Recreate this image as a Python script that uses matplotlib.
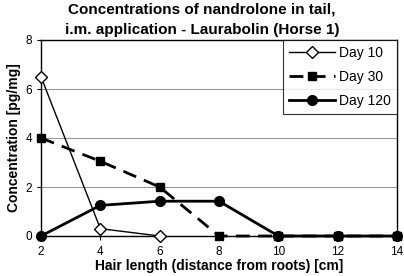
import matplotlib
matplotlib.use("Agg")
import matplotlib.pyplot as plt

plt.rcParams['font.family'] = ['Liberation Sans', 'DejaVu Sans']

x_day10 = [2, 4, 6]
y_day10 = [6.5, 0.3, 0.0]
x_all = [2, 4, 6, 8, 10, 12, 14]
y_day30 = [4.0, 3.05, 2.0, 0.0, 0.0, 0.0, 0.0]
y_day120 = [0.0, 1.25, 1.42, 1.42, 0.0, 0.0, 0.0]
xticks = [2, 4, 6, 8, 10, 12, 14]
yticks = [0, 2, 4, 6, 8]

fig = plt.figure(figsize=(4.04, 2.76), dpi=100)
ax = fig.add_axes([41/404, 1 - 236/276, (397-41)/404, (236-40)/276])

ax.plot(x_day10, y_day10, color='black', lw=1.0, marker='D', ms=6,
        mfc='white', mec='black', mew=1.0, label='Day 10', zorder=4)
ax.plot(x_all, y_day30, color='black', lw=2.0, dashes=(5, 3), marker='s', ms=6,
        mfc='black', mec='black', label='Day 30', zorder=3)
ax.plot(x_all, y_day120, color='black', lw=2.0, marker='o', ms=7,
        mfc='black', mec='black', label='Day 120', zorder=3)

ax.set_xlim(2, 14)
ax.set_ylim(0, 8)
ax.set_xticks(xticks)
ax.set_yticks(yticks)
ax.yaxis.grid(True, color='#999999', lw=0.8)
ax.set_axisbelow(True)
for s in ax.spines.values():
    s.set_linewidth(1.0)
    s.set_color('black')
ax.tick_params(axis='both', labelsize=8.5, length=3, width=0.8, direction='out')
ax.tick_params(axis='x', pad=4)
for line in ax.lines:
    line.set_clip_on(False)

ax.set_xlabel('Hair length (distance from roots) [cm]', fontsize=10, fontweight='bold', labelpad=1)
ax.set_ylabel('Concentration [pg/mg]', fontsize=10, fontweight='bold', labelpad=3)
fig.text(0.5, 1 - 2/276, 'Concentrations of nandrolone in tail,\ni.m. application - Laurabolin (Horse 1)',
         ha='center', va='top', fontsize=11, fontweight='bold', linespacing=1.6)

leg = ax.legend(loc='upper right', fontsize=10, frameon=True, fancybox=False,
                edgecolor='black', borderaxespad=0, handlelength=3.3,
                borderpad=0.45, labelspacing=0.7, handletextpad=0.3)
leg.get_frame().set_linewidth(0.8)

fig.savefig('out.png', dpi=100)
